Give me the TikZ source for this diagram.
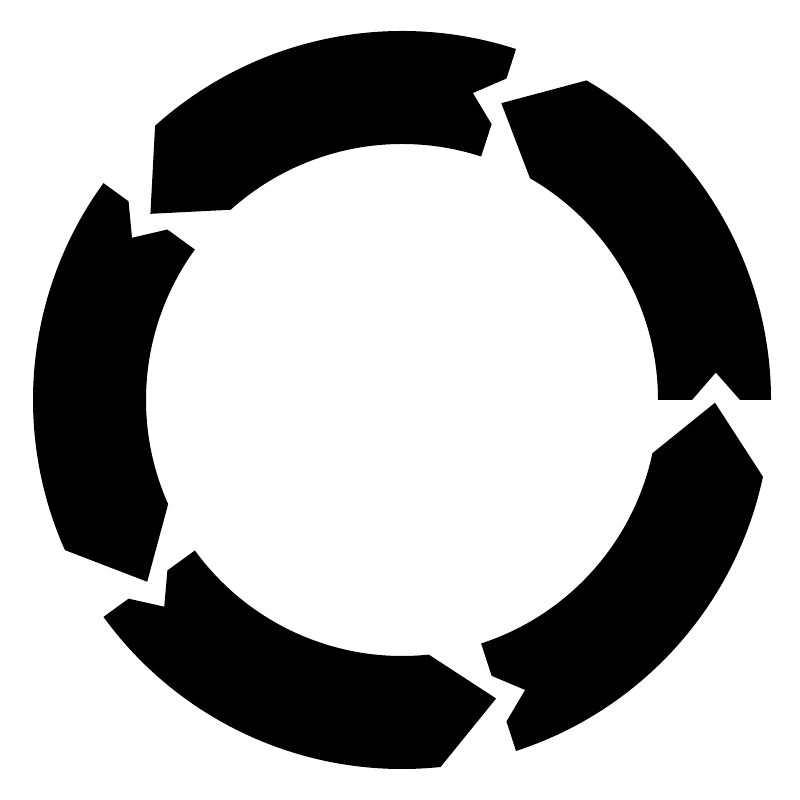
\documentclass[tikz,border=0pt]{standalone}
\usepackage{tikz}
\usetikzlibrary{positioning}

% radii of the ring (outer, inner, middle) and of the notch sides
\newcommand{\ringout}{3.69}
\newcommand{\ringin}{2.56}
\newcommand{\ringmid}{3.13}
\newcommand{\notchout}{3.38}
\newcommand{\notchin}{2.90}

\tikzset{
 arrowseg/.style={fill=black, draw=none}
}

\begin{document}
\begin{tikzpicture}

 % fix the size of the page
 \useasboundingbox (0,0) rectangle (8,8);

 % centre of the ring
 \coordinate (centre) at (4.02,4.0);

 % five curved arrows, each starts at its notched tail and
 % ends with its tip pointing at the next tail
 \begin{scope}[shift={(centre)}]
 \foreach \t in {0,72,144,216,288}{
  \path[arrowseg]
   (\t:\ringout) arc[start angle=\t, end angle=\t+60, radius=\ringout]
   -- (\t+71.5:\ringmid)
   -- (\t+60:\ringin) arc[start angle=\t+60, end angle=\t, radius=\ringin]
   -- (\t:\notchin) -- (\t+5:3.15) -- (\t:\notchout) -- cycle;
 }
 \end{scope}

\end{tikzpicture}
\end{document}
